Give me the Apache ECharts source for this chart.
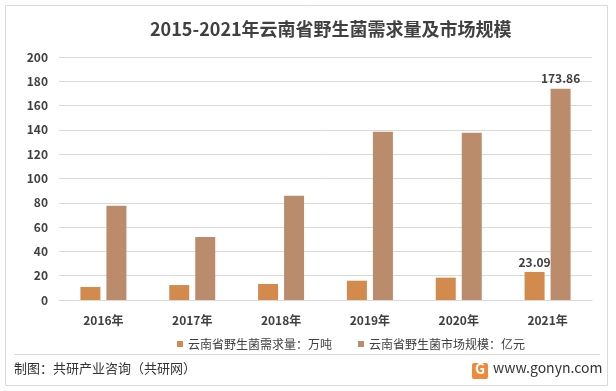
<!DOCTYPE html>
<html><head><meta charset="utf-8">
<script src="https://cdn.jsdelivr.net/npm/echarts@6/dist/echarts.min.js"></script>
<style>html,body{margin:0;padding:0;background:#fff}#c{width:616px;height:391px}</style>
</head><body><div id="c"></div>
<script>
const categories = ['2016年','2017年','2018年','2019年','2020年','2021年'];
const demand = [10.7, 12.3, 13.2, 15.9, 18.4, 23.09];
const market = [77.5, 51.9, 85.8, 138.5, 137.7, 173.86];
const yTicks = [0, 20, 40, 60, 80, 100, 120, 140, 160, 180, 200];
const labeledIndex = 5;
const FONT = '"Noto Sans CJK SC", "Noto Sans", sans-serif';

const chart = echarts.init(document.getElementById('c'), null, {renderer:'canvas'});
function lbl(i){ return {show: i === labeledIndex, position:'top', distance:4, color:'#404040', fontSize:12, fontWeight:'bold', fontFamily:FONT}; }
chart.setOption({
  animation:false,
  textStyle:{fontFamily:FONT},
  title:{text:'2015-2021年云南省野生菌需求量及市场规模', left:145, top:15,
    textStyle:{fontSize:18, fontWeight:'bold', color:'#404040', fontFamily:FONT}},
  grid:{left:59, right:24, top:57, bottom:91},
  legend:{left:172, top:333, itemWidth:6, itemHeight:6, itemGap:26, icon:'rect',
    textStyle:{fontSize:12, color:'#404040', fontFamily:FONT}},
  xAxis:{type:'category', data:categories,
    axisLine:{lineStyle:{color:'#D9D9D9'}}, axisTick:{show:false},
    axisLabel:{color:'#404040', fontSize:12, fontWeight:'bold', margin:14, fontFamily:FONT}},
  yAxis:{type:'value', min:yTicks[0], max:yTicks[yTicks.length-1], interval:yTicks[1]-yTicks[0],
    axisLine:{show:false}, axisTick:{show:false},
    splitLine:{lineStyle:{color:'#D9D9D9'}},
    axisLabel:{color:'#404040', fontSize:12, fontWeight:'bold', margin:11, fontFamily:FONT}},
  series:[
    {name:'云南省野生菌需求量：万吨', type:'bar', barWidth:20, barGap:'30%',
     itemStyle:{color:'#D38A4D'},
     data:demand.map((v,i)=>({value:v, label:lbl(i)}))},
    {name:'云南省野生菌市场规模：亿元', type:'bar', barWidth:20, barGap:'30%',
     itemStyle:{color:'#BA8C6B'},
     data:market.map((v,i)=>({value:v, label:lbl(i)}))}
  ],
  graphic:[
    {type:'rect', shape:{x:5.5, y:5.5, width:602, height:380}, style:{fill:'none', stroke:'#D9D9D9', lineWidth:1}, silent:true},
    {type:'line', shape:{x1:14, y1:354.5, x2:600, y2:354.5}, style:{stroke:'#D9D9D9', lineWidth:1}},
    {type:'text', left:14, top:362, style:{text:'制图：共研产业咨询（共研网）', fontSize:13, fill:'#333', fontFamily:FONT}},
    {type:'rect', shape:{x:472, y:363, width:16, height:16, r:2}, style:{fill:'#F08A3A'}},
    {type:'text', left:475, top:362, style:{text:'G', fontSize:14, fontWeight:'bold', fill:'#fff', fontFamily:FONT}},
    {type:'text', left:493, top:361, style:{text:'www.gonyn.com', fontSize:14, fill:'#333', fontFamily:FONT}}
  ]
});
</script></body></html>
